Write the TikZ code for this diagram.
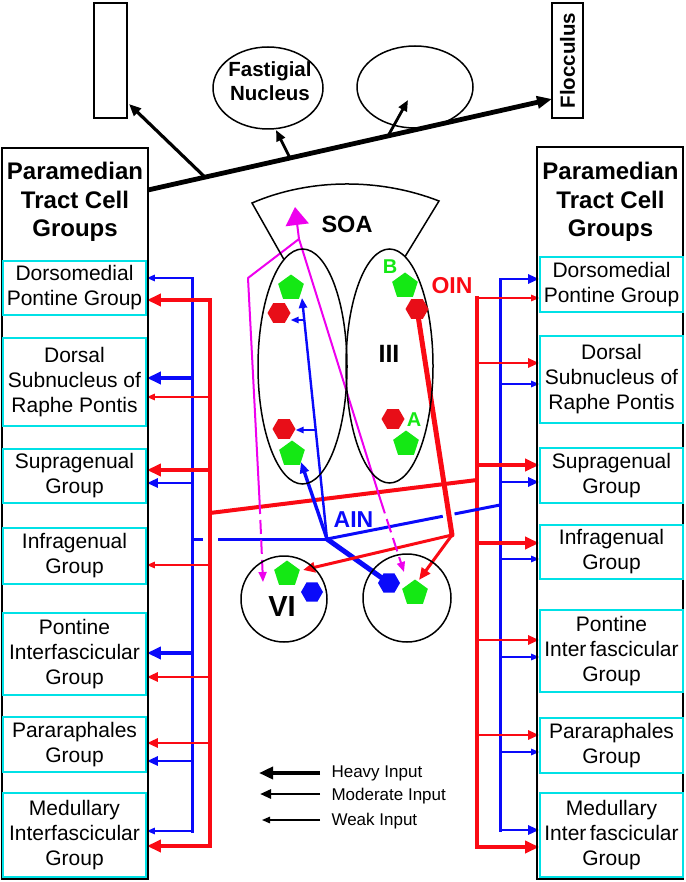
\documentclass[tikz,border=0pt]{standalone}
\usepackage{fontspec}
\setmainfont{Liberation Sans}
\usetikzlibrary{arrows.meta,shapes.geometric}
\pgfdeclarelayer{bg}
\pgfsetlayers{bg,main}
\definecolor{myblue}{RGB}{10,10,250}
\definecolor{myred}{RGB}{250,10,20}
\definecolor{hexred}{RGB}{232,14,24}
\definecolor{mygreen}{RGB}{20,232,20}
\definecolor{mymag}{RGB}{238,0,238}
\definecolor{mycyan}{RGB}{0,225,230}
\newcommand\myfs[2]{\fontsize{#1}{#2}\selectfont}
\tikzset{
  blk/.style={draw=black, line width=1.6pt, inner sep=0pt},
  ell/.style={ellipse, draw=black, line width=1.5pt, inner sep=0pt},
  cbox/.style={draw=mycyan, line width=1.8pt, minimum width=143pt, inner sep=0pt, align=center, font=\myfs{21}{25}},
  ttl/.style={align=center, font=\bfseries\myfs{24}{28.5}},
  heavyarr/.style={line width=4.8pt, -{Triangle[length=14pt,width=12pt]}},
  modarr/.style={line width=2.8pt, -{Triangle[length=11pt,width=9pt]}},
  weakarr/.style={line width=1.4pt, -{Triangle[length=8pt,width=6.5pt]}},
  pent/.style={regular polygon, regular polygon sides=5, fill=mygreen, minimum size=27pt, inner sep=0pt},
  hexr/.style={regular polygon, regular polygon sides=6, fill=hexred, minimum size=23pt, inner sep=0pt},
  hexb/.style={regular polygon, regular polygon sides=6, fill=myblue, minimum size=22pt, inner sep=0pt},
  vline/.style={line width=#1, line cap=rect},
  magline/.style={mymag, line width=2pt},
  lgtext/.style={anchor=west, font=\myfs{17}{20}},
}
\begin{document}
\begin{tikzpicture}[x=1pt,y=-1pt]
\useasboundingbox (0,0) rectangle (685,882);

% ---------- big boxes and titles
\node[blk, minimum width=146pt, minimum height=731pt] (lbig) at (75,513.5) {};
\node[blk, minimum width=146pt, minimum height=732pt] (rbig) at (610,513) {};
\node[ttl] (ltitle) at (75,202) {Paramedian\\Tract Cell\\Groups};
\node[ttl] (rtitle) at (610.5,202) {Paramedian\\Tract Cell\\Groups};

% ---------- left cell groups
\node[cbox, minimum height=54pt] (l1) at (74.5,288) {Dorsomedial\\Pontine Group};
\node[cbox, minimum height=88pt] (l2) at (74.5,382) {Dorsal\\Subnucleus of\\Raphe Pontis};
\node[cbox, minimum height=54pt] (l3) at (74.5,476) {Supragenual\\Group};
\node[cbox, minimum height=56pt] (l4) at (74.5,556) {Infragenual\\Group};
\node[cbox, minimum height=82pt] (l5) at (74.5,654) {Pontine\\Interfascicular\\Group};
\node[cbox, minimum height=55pt] (l6) at (74.5,744.5) {Pararaphales\\Group};
\node[cbox, minimum height=84pt] (l7) at (74.5,835) {Medullary\\Interfascicular\\Group};

% ---------- right cell groups
\node[cbox, minimum height=55pt] (r1) at (611.5,284.5) {Dorsomedial\\Pontine Group};
\node[cbox, minimum height=87pt] (r2) at (611.5,379.5) {Dorsal\\Subnucleus of\\Raphe Pontis};
\node[cbox, minimum height=55pt] (r3) at (611.5,475.5) {Supragenual\\Group};
\node[cbox, minimum height=54pt] (r4) at (611.5,552) {Infragenual\\Group};
\node[cbox, minimum height=82pt] (r5) at (611.5,651) {Pontine\\Inter\,fascicular\\Group};
\node[cbox, minimum height=55pt] (r6) at (611.5,745.5) {Pararaphales\\Group};
\node[cbox, minimum height=84pt] (r7) at (611.5,835) {Medullary\\Inter\,fascicular\\Group};

% ---------- top targets
\node[blk, minimum width=33pt, minimum height=115pt] (vrect) at (110.5,60.5) {};
\node[blk, rotate=90, minimum width=115pt, minimum height=31pt, font=\bfseries\myfs{20.5}{24}] (floc) at (567.5,60.5) {Flocculus};
\node[ell, minimum width=110pt, minimum height=82pt] (fast) at (268,88) {};
\node[font=\bfseries\myfs{20.5}{23.5}, align=center] (fastT) at (270,81) {Fastigial\\Nucleus};
\node[ell, minimum width=116pt, minimum height=82pt] (ell2) at (415,87) {};

% ---------- SOA and nuclei
\draw[line width=1.5pt] (284,259.6) -- (252,203) .. controls (310,178) and (380,178) .. (439,201) -- (405,256.7);
\node[font=\bfseries\myfs{23.5}{27}] (soa) at (347,224.5) {SOA};
\node[ell, minimum width=89pt, minimum height=235pt] (e3l) at (302.5,366.5) {};
\node[ell, minimum width=87pt, minimum height=234pt] (e3r) at (389.5,366) {};
\node[font=\bfseries\myfs{25}{30}] (iii) at (389,354) {III};
\node[circle, draw=black, line width=1.5pt, minimum size=86pt, inner sep=0pt] (c6) at (284,599) {};
\node[circle, draw=black, line width=1.5pt, minimum size=88pt, inner sep=0pt] (c4) at (407,598) {};
\node[font=\bfseries\myfs{29}{34}] (vi) at (282,606.5) {VI};

% ---------- cells
\node[pent] (gp1) at (291,288) {};
\node[pent] (gp2) at (292,454) {};
\node[pent] (gp3) at (405,286) {};
\node[pent] (gp4) at (406,444) {};
\node[pent] (gp5) at (287,574) {};
\node[pent] (gp6) at (415,593) {};
\node[hexr] (hr1) at (279,313) {};
\node[hexr] (hr2) at (284,429) {};
\node[hexr] (hr3) at (417,309) {};
\node[hexr] (hr4) at (393,419) {};
\node[hexb] (hb1) at (312,592) {};
\node[hexb] (hb2) at (389,583) {};
\node[text=mygreen, font=\bfseries\myfs{20}{24}] (labB) at (390,267) {B};
\node[text=mygreen, font=\bfseries\myfs{20}{24}] (labA) at (414,420) {A};
\node[text=myred, font=\bfseries\myfs{23}{27}] (oin) at (452,285.5) {OIN};
\node[text=myblue, font=\bfseries\myfs{23}{27}] (ain) at (353.5,520) {AIN};

% ---------- legend
\coordinate (lg1a) at (320,773); \coordinate (lg1b) at (259,773);
\coordinate (lg2a) at (320,794); \coordinate (lg2b) at (260,794);
\coordinate (lg3a) at (320,820); \coordinate (lg3b) at (262,820);
\node[lgtext] (lgt1) at (328,773.5) {Heavy Input};
\node[lgtext] (lgt2) at (328,796) {Moderate Input};
\node[lgtext] (lgt3) at (328,821) {Weak Input};

\begin{pgfonlayer}{bg}
% legend arrows
\draw[heavyarr] (lg1a) -- (lg1b);
\draw[modarr] (lg2a) -- (lg2b);
\draw[weakarr] (lg3a) -- (lg3b);

% top black projection
\coordinate (t0) at (148,190);
\coordinate (t1) at (205,177.2);
\coordinate (t2) at (290,158);
\coordinate (t3) at (388,136);
\coordinate (t4) at (552,99);
\coordinate (a1) at (129,104);
\coordinate (a2) at (276,130);
\coordinate (a3) at (408,100);
\draw[line width=4.8pt, -{Triangle[length=15pt,width=12pt]}] (t0) -- (t4);
\draw[line width=3.2pt, -{Triangle[length=12pt,width=10pt]}] (t1) -- (a1);
\draw[line width=2.8pt, -{Triangle[length=11pt,width=9pt]}] (t2) -- (a2);
\draw[line width=2.8pt, -{Triangle[length=11pt,width=9pt]}] (t3) -- (a3);

% left verticals
\coordinate (lb1) at (192,278); \coordinate (lb2) at (192,378); \coordinate (lb3) at (192,483);
\coordinate (lb5) at (192,653); \coordinate (lb6) at (192,761); \coordinate (lb7) at (192,831);
\coordinate (lr1) at (210,300); \coordinate (lr2) at (210,397); \coordinate (lr3) at (210,470);
\coordinate (lr4) at (210,565); \coordinate (lr5) at (210,677); \coordinate (lr6) at (210,743);
\coordinate (lr7) at (210,846);
\draw[myblue, vline=3pt] (lb1) -- (lb7);
\draw[myred, vline=4pt] (lr1) -- (lr7);
\draw[myblue, weakarr] (lb1) -- (lb1 -| l1.east);
\draw[myblue, heavyarr] (lb2) -- (lb2 -| l2.east);
\draw[myblue, modarr] (lb3) -- (lb3 -| l3.east);
\draw[myblue, heavyarr] (lb5) -- (lb5 -| l5.east);
\draw[myblue, modarr] (lb6) -- (lb6 -| l6.east);
\draw[myblue, weakarr] (lb7) -- (lb7 -| l7.east);
\draw[myred, heavyarr] (lr1) -- (lr1 -| l1.east);
\draw[myred, weakarr] (lr2) -- (lr2 -| l2.east);
\draw[myred, heavyarr] (lr3) -- (lr3 -| l3.east);
\draw[myred, weakarr] (lr4) -- (lr4 -| l4.east);
\draw[myred, modarr] (lr5) -- (lr5 -| l5.east);
\draw[myred, modarr] (lr6) -- (lr6 -| l6.east);
\draw[myred, heavyarr] (lr7) -- (lr7 -| l7.east);

% right verticals
\coordinate (rr1) at (477,298); \coordinate (rr2) at (477,363); \coordinate (rr3) at (477,465);
\coordinate (rr4) at (477,543); \coordinate (rr5) at (477,640); \coordinate (rr6) at (477,735);
\coordinate (rr7) at (477,847);
\coordinate (rb1) at (500,279); \coordinate (rb2) at (500,384); \coordinate (rb3) at (500,482);
\coordinate (rb4) at (500,559); \coordinate (rb5) at (500,657); \coordinate (rb6) at (500,752);
\coordinate (rb7) at (500,830);
\draw[myred, vline=4pt] (rr1) -- (rr7);
\draw[myblue, vline=3pt] (rb1) -- (rb7);
\draw[myred, weakarr] (rr1) -- (rr1 -| r1.west);
\draw[myred, modarr] (rr2) -- (rr2 -| r2.west);
\draw[myred, heavyarr] (rr3) -- (rr3 -| r3.west);
\draw[myred, heavyarr] (rr4) -- (rr4 -| r4.west);
\draw[myred, modarr] (rr5) -- (rr5 -| r5.west);
\draw[myred, modarr] (rr6) -- (rr6 -| r6.west);
\draw[myred, heavyarr] (rr7) -- (rr7 -| r7.west);
\draw[myblue, modarr] (rb1) -- (rb1 -| r1.west);
\draw[myblue, weakarr] (rb2) -- (rb2 -| r2.west);
\draw[myblue, modarr] (rb3) -- (rb3 -| r3.west);
\draw[myblue, weakarr] (rb4) -- (rb4 -| r4.west);
\draw[myblue, weakarr] (rb5) -- (rb5 -| r5.west);
\draw[myblue, weakarr] (rb6) -- (rb6 -| r6.west);
\draw[myblue, modarr] (rb7) -- (rb7 -| r7.west);

% red crossing
\coordinate (xr1) at (210,513); \coordinate (xr2) at (477,480);
\draw[myred, line width=4pt] (xr1) -- (xr2);

% AIN
\coordinate (ainj) at (327,539);
\coordinate (lbA) at (192,539);
\coordinate (rbA) at (500,505);
\coordinate (tipB) at (302,298);
\coordinate (tipA) at (301,462);
\coordinate (ab1) at (304.3,320);
\coordinate (ab2) at (315.7,430);
\draw[myblue, line width=3pt, dash pattern=on 109pt off 15pt on 20pt] (ainj) -- (lbA);
\draw[myblue, line width=3pt, dash pattern=on 118pt off 12pt on 60pt] (ainj) -- (rbA);
\draw[myblue, line width=2.4pt, -{Triangle[length=10pt,width=8pt]}] (ainj) -- (tipB);
\draw[myblue, line width=3.4pt, -{Triangle[length=11pt,width=9pt]}] (ainj) -- (tipA);
\draw[myblue, line width=1.6pt, -{Triangle[length=8pt,width=6.5pt]}] (ab1) -- (ab1 -| hr1.east);
\draw[myblue, line width=1.6pt, -{Triangle[length=8pt,width=6.5pt]}] (ab2) -- (ab2 -| hr2.east);
\draw[myblue, line width=5pt] (ainj) -- (hb2.center);

% OIN
\coordinate (oinj) at (452,535);
\coordinate (tipO1) at (303,570);
\coordinate (tipO2) at (419,580);
\draw[myred, line width=5pt, line cap=round] (hr3.center) -- (oinj);
\draw[myred, line width=3pt, -{Triangle[length=12pt,width=10pt]}] (oinj) -- (tipO1);
\draw[myred, line width=3pt, -{Triangle[length=12pt,width=10pt]}] (oinj) -- (tipO2);

% magenta
\coordinate (mj) at (299,239);
\coordinate (ml) at (248,278);
\coordinate (mlb) at (259.5,500);
\coordinate (mlt) at (263,582);
\coordinate (mrb) at (380.5,500);
\coordinate (mrt) at (404,572);
\coordinate (mtip) at (295,207);
\draw[magline, line join=round] (mrb) -- (mj) -- (ml) -- (mlb);
\draw[magline, dash pattern=on 14pt off 6pt, -{Triangle[length=10pt,width=8pt]}] (mlb) -- (mlt);
\draw[magline, dash pattern=on 14pt off 6pt, -{Triangle[length=10pt,width=8pt]}] (mrb) -- (mrt);
\draw[magline, -{Triangle[length=18pt,width=23pt]}] (mj) -- (mtip);
\end{pgfonlayer}
\end{tikzpicture}
\end{document}
